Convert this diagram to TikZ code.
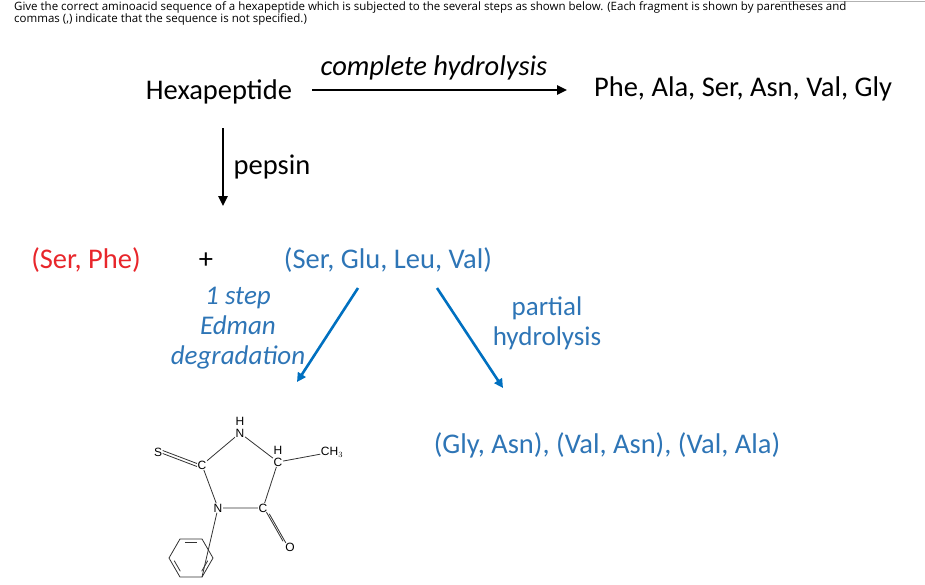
\documentclass[tikz,border=0pt]{standalone}
\usepackage{fontspec}
\setmainfont{Carlito}
\newfontfamily\hdr{Open Sans}
\newfontfamily\chem{Liberation Sans}
\usetikzlibrary{arrows.meta,calc}
\definecolor{tblue}{HTML}{2E75B6}
\definecolor{ablue}{HTML}{0070C0}
\definecolor{tred}{HTML}{E8262B}
\begin{document}
\begin{tikzpicture}[x=1pt,y=-1pt,
  big/.style={font=\fontsize{28.5}{32}\selectfont,inner sep=0},
  lab/.style={font=\fontsize{27}{30}\selectfont,inner sep=0,align=center},
  atm/.style={font=\chem\fontsize{12}{12}\selectfont,inner sep=0.5pt},
  bond/.style={gray!40!black,line width=0.8pt},
  blk/.style={line width=2.4pt,-{Triangle[length=10pt,width=9pt]}},
  blu/.style={ablue,line width=2.6pt,-{Triangle[length=9pt,width=9pt]}}]
\useasboundingbox (0,0) rectangle (925,584);
\draw[gray!60] (780,1) -- (925,1);
\node[anchor=north west,font=\hdr\fontsize{11.5}{12.5}\selectfont,align=left,inner sep=0] (hd) at (14,1)
 {Give the correct aminoacid sequence of a hexapeptide which is subjected to the several steps as shown below. (Each fragment is shown by parentheses and\\commas (,) indicate that the sequence is not specified.)};
\node[big] (hex) at (219,92) {Hexapeptide};
\node[big] (aa) at (743,89) {Phe, Ala, Ser, Asn, Val, Gly};
\coordinate (a1) at (312,90); \coordinate (a2) at (567,90);
\draw[blk] (a1) -- (a2);
\node[big,font=\fontsize{28.5}{32}\selectfont\itshape] (ch) at (434,68) {complete hydrolysis};
\coordinate (p1) at (223,128); \coordinate (p2) at (223,206);
\draw[blk] (p1) -- (p2);
\node[big] (pep) at (272,167) {pepsin};
\node[big,text=tred] (sp) at (86,260) {(Ser, Phe)};
\node[big] (plus) at (206,261) {+};
\node[big,text=tblue] (sglv) at (388,260) {(Ser, Glu, Leu, Val)};
\node[lab,text=tblue,font=\fontsize{27}{30}\selectfont\itshape] (ed) at (238,328) {1 step\\Edman\\degradation};
\node[lab,text=tblue] (ph) at (547,323) {partial\\hydrolysis};
\coordinate (b1) at (358,288); \coordinate (b2) at (297,382);
\coordinate (c1) at (437,288); \coordinate (c2) at (503,388);
\draw[blu] (b1) -- (b2);
\draw[blu] (c1) -- (c2);
\node[big,text=tblue] (fr) at (607,445) {(Gly, Asn), (Val, Asn), (Val, Ala)};
% structure
\node[atm] (S) at (158,452) {S};
\node[atm] (C1) at (202,465) {C};
\node[atm] (N1) at (240,433) {N};
\node[atm] (H1) at (240,421) {H};
\node[atm] (C2) at (278,462) {C};
\node[atm] (H2) at (278,450) {H};
\node[atm] (Me) at (332,452) {CH$_3$};
\node[atm] (N2) at (218,508) {N};
\node[atm] (C3) at (263,508) {C};
\node[atm] (O) at (290,547) {O};
\draw[bond] ([yshift=-1.5pt]S.east) -- ([yshift=-1.5pt]C1.west);
\draw[bond] ([yshift=1.5pt]S.east) -- ([yshift=1.5pt]C1.west);
\draw[bond] (C1) -- (N1) (N1) -- (C2) (C2) -- (Me) (C2) -- (C3) (C3) -- (N2) (N2) -- (C1);
\draw[bond] ([xshift=-1.6pt,yshift=0.8pt]C3.south east) -- ([xshift=-1.6pt,yshift=0.8pt]O.north west);
\draw[bond] ([xshift=1.2pt,yshift=-0.8pt]C3.south east) -- ([xshift=1.2pt,yshift=-0.8pt]O.north west);
\coordinate (bz) at (191,558);
\coordinate (v0) at ($(bz)+(60:22)$);
\draw[bond] (N2) -- (v0);
\draw[bond] ($(bz)+(0:22)$) \foreach \a in {60,120,...,360} {-- ($(bz)+(\a:22)$)} -- cycle;
\foreach \a in {0,120,240} \draw[bond] ($(bz)+(\a+9:17)$) -- ($(bz)+(\a+51:17)$);
\end{tikzpicture}
\end{document}
